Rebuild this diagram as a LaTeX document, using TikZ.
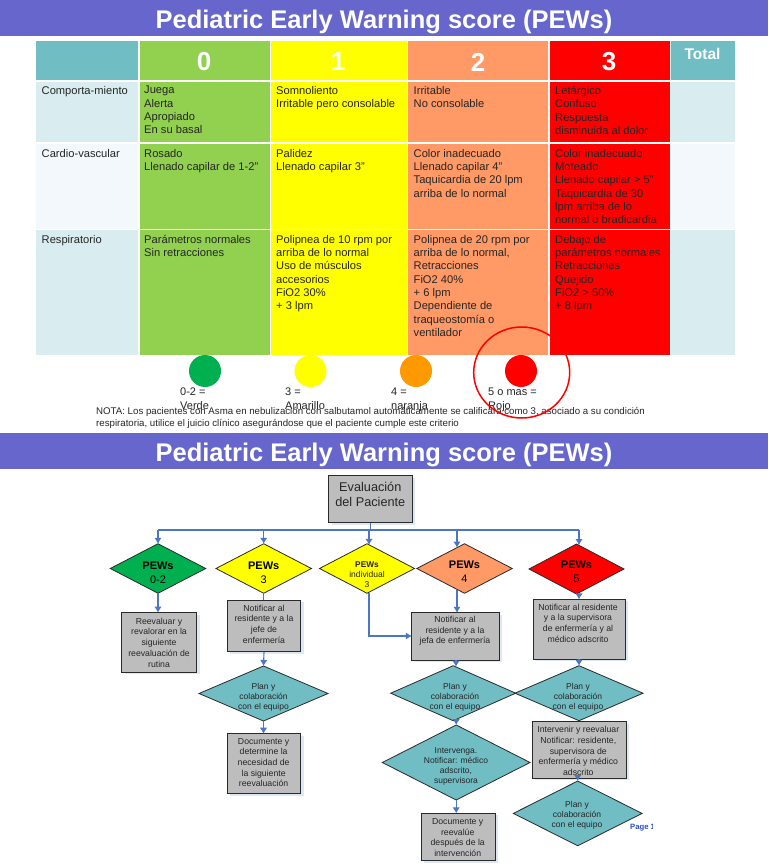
\documentclass[tikz,border=0pt]{standalone}
\usepackage{fontspec}
\setmainfont{Liberation Sans}
\usetikzlibrary{arrows.meta,shapes.geometric,shadows}
\definecolor{band}{HTML}{6666CC}
\definecolor{cteal}{HTML}{70BDC4}
\definecolor{cgreen}{HTML}{92D050}
\definecolor{cyellow}{HTML}{FFFF00}
\definecolor{corange}{HTML}{FF9966}
\definecolor{cred}{HTML}{FF0000}
\definecolor{rowa}{HTML}{D9ECEF}
\definecolor{rowb}{HTML}{F2F8FB}
\definecolor{dotgreen}{HTML}{00B050}
\definecolor{dotorange}{HTML}{FF9900}
\definecolor{boxgray}{HTML}{BDBDBD}
\definecolor{edge}{HTML}{2A2A2A}
\definecolor{flowblue}{HTML}{4A76C4}
\definecolor{shade}{HTML}{DDE7F5}
\definecolor{ink}{HTML}{262626}
\definecolor{pageblue}{HTML}{2A4FD0}
\tikzset{
  x=1pt,y=-1pt,
  band/.style={fill=band,draw=none,anchor=north west,minimum width=768pt,minimum height=36pt,inner sep=0,outer sep=0},
  title/.style={text=white,font=\fontsize{25.5}{30}\bfseries\selectfont,inner sep=0},
  cell/.style={draw=none,anchor=north west,inner sep=0,outer sep=0},
  ctext/.style={anchor=north west,align=left,inner sep=0,text=ink,font=\fontsize{11.15}{13.3}\selectfont},
  num/.style={text=white,font=\fontsize{26}{28}\bfseries\selectfont,inner sep=0},
  dot/.style={circle,draw=none,minimum size=32pt,inner sep=0},
  dlabel/.style={anchor=north west,align=left,inner sep=0,text=ink,font=\fontsize{11}{14}\selectfont},
  nota/.style={anchor=north west,align=left,inner sep=0,text=ink,font=\fontsize{9.68}{12.3}\selectfont},
  fbox/.style={rectangle,draw=edge,line width=0.9pt,fill=boxgray,inner sep=0,outer sep=0,
    drop shadow={shadow xshift=3pt,shadow yshift=-2pt,fill=shade,opacity=1}},
  dia/.style={diamond,draw=edge,line width=0.8pt,inner sep=0,outer sep=0},
  ftext/.style={align=center,inner sep=0,text=ink,font=\fontsize{8.7}{10.7}\selectfont},
  dtext/.style={align=center,inner sep=0,text=ink,font=\fontsize{8.5}{10}\selectfont},
  ptext/.style={align=center,inner sep=0,text=black,font=\fontsize{11}{14}\selectfont},
  flow/.style={draw=flowblue,line width=1.1pt},
  flowa/.style={flow,-{Latex[length=6pt,width=7.5pt]}},
}
\begin{document}
\begin{tikzpicture}
\useasboundingbox (0,0) rectangle (768,866);
\fill[white] (0,0) rectangle (768,866);

% banners
\node[band] (b1) at (0,0) {};
\node[band] (b2) at (0,433) {};
\node[title] (t1) at (384,21.5) {Pediatric Early Warning score (PEWs)};
\node[title] (t2) at (384,454.5) {Pediatric Early Warning score (PEWs)};

% table header
\node[cell,fill=cteal,minimum width=102pt,minimum height=39pt] (h0) at (36,41) {};
\node[cell,fill=cgreen,minimum width=130.5pt,minimum height=39pt] (h1) at (139.5,41) {};
\node[cell,fill=cyellow,minimum width=136pt,minimum height=39pt] (h2) at (271,41) {};
\node[cell,fill=corange,minimum width=140pt,minimum height=39pt] (h3) at (408,41) {};
\node[cell,fill=cred,minimum width=120pt,minimum height=39pt] (h4) at (550,41) {};
\node[cell,fill=cteal,minimum width=63.5pt,minimum height=39pt] (h5) at (671,41) {};
\node[num] (n0) at (204,62) {0};
\node[num] (n1) at (338,62) {1};
\node[num] (n2) at (478,62) {2};
\node[num] (n3) at (609,62) {3};
\node[text=white,inner sep=0,font=\fontsize{15.5}{18}\bfseries\selectfont] (tot) at (702.5,53.5) {Total};

% row 1
\node[cell,fill=rowa,minimum width=102pt,minimum height=60pt] (a0) at (36,82) {};
\node[cell,fill=cgreen,minimum width=130.5pt,minimum height=60pt] (a1) at (139.5,82) {};
\node[cell,fill=cyellow,minimum width=136pt,minimum height=60pt] (a2) at (271,82) {};
\node[cell,fill=corange,minimum width=140pt,minimum height=60pt] (a3) at (408,82) {};
\node[cell,fill=cred,minimum width=120pt,minimum height=60pt] (a4) at (550,82) {};
\node[cell,fill=rowa,minimum width=63.5pt,minimum height=60pt] (a5) at (671,82) {};
% row 2
\node[cell,fill=rowb,minimum width=102pt,minimum height=85pt] (r0) at (36,144) {};
\node[cell,fill=cgreen,minimum width=130.5pt,minimum height=85pt] (r1) at (139.5,144) {};
\node[cell,fill=cyellow,minimum width=136pt,minimum height=85pt] (r2) at (271,144) {};
\node[cell,fill=corange,minimum width=140pt,minimum height=85pt] (r3) at (408,144) {};
\node[cell,fill=cred,minimum width=120pt,minimum height=85pt] (r4) at (550,144) {};
\node[cell,fill=rowb,minimum width=63.5pt,minimum height=85pt] (r5) at (671,144) {};
% row 3
\node[cell,fill=rowa,minimum width=102pt,minimum height=124.5pt] (s0) at (36,230.5) {};
\node[cell,fill=cgreen,minimum width=130.5pt,minimum height=124.5pt] (s1) at (139.5,230.5) {};
\node[cell,fill=cyellow,minimum width=136pt,minimum height=124.5pt] (s2) at (271,230.5) {};
\node[cell,fill=corange,minimum width=140pt,minimum height=124.5pt] (s3) at (408,230.5) {};
\node[cell,fill=cred,minimum width=120pt,minimum height=124.5pt] (s4) at (550,230.5) {};
\node[cell,fill=rowa,minimum width=63.5pt,minimum height=124.5pt] (s5) at (671,230.5) {};

% table text
\node[ctext] (ta0) at (41.5,86) {Comporta-miento};
\node[ctext] (ta1) at (144,86) {Juega\\Alerta\\Apropiado\\En su basal};
\node[ctext] (ta2) at (276,86) {Somnoliento\\Irritable pero consolable};
\node[ctext] (ta3) at (413.5,86) {Irritable\\No consolable};
\node[ctext] (ta4) at (555,86) {Letárgico\\Confuso\\Respuesta\\disminuida al dolor};
\node[ctext] (tr0) at (41.5,149) {Cardio-vascular};
\node[ctext] (tr1) at (144,149) {Rosado\\Llenado capilar de 1-2"};
\node[ctext] (tr2) at (276,149) {Palidez\\Llenado capilar 3"};
\node[ctext] (tr3) at (413.5,149) {Color inadecuado\\Llenado capilar 4"\\Taquicardia de 20 lpm\\arriba de lo normal};
\node[ctext] (tr4) at (555,149) {Color inadecuado\\Moteado\\Llenado capilar > 5"\\Taquicardia de 30\\lpm arriba de lo\\normal o bradicardia};
\node[ctext] (ts0) at (41.5,235) {Respiratorio};
\node[ctext] (ts1) at (144,235) {Parámetros normales\\Sin retracciones};
\node[ctext] (ts2) at (276,235) {Polipnea de 10 rpm por\\arriba de lo normal\\Uso de músculos\\accesorios\\FiO2 30\%\\+ 3 lpm};
\node[ctext] (ts3) at (413.5,235) {Polipnea de 20 rpm por\\arriba de lo normal,\\Retracciones\\FiO2 40\%\\+ 6 lpm\\Dependiente de\\traqueostomía o\\ventilador};
\node[ctext] (ts4) at (555,235) {Debajo de\\parámetros normales\\Retracciones\\Quejido\\FiO2 > 50\%\\+ 8 lpm};

% legend
\node[dot,fill=dotgreen] (dg) at (205,371) {};
\node[dot,fill=cyellow] (dy) at (310.5,371) {};
\node[dot,fill=dotorange] (do) at (416,371) {};
\node[dot,fill=cred] (dr) at (521,371) {};
\node[dlabel] (lg) at (180,388) {0-2 =\\Verde};
\node[dlabel] (ly) at (285,388) {3 =\\Amarillo};
\node[dlabel] (lo) at (391,388) {4 =\\naranja};
\node[dlabel] (lr) at (488,388) {5 o mas =\\Rojo};
\node[nota] (nt) at (96,407) {NOTA: Los pacientes con Asma en nebulización con salbutamol automáticamente se calificara como 3, asociado a su condición\\respiratoria, utilice el juicio clínico asegurándose que el paciente cumple este criterio};
\node[ellipse,draw=cred,line width=1.5pt,minimum width=96pt,minimum height=91pt,inner sep=0] (ring) at (521.7,372.5) {};

% flowchart
\node[fbox,minimum width=83.5pt,minimum height=47pt] (ev) at (370.3,499) {};
\node[ftext,font=\fontsize{12.7}{15}\selectfont] (evt) at (370.3,494) {Evaluación\\del Paciente};

\node[dia,fill=dotgreen,minimum width=95.5pt,minimum height=49.5pt] (d0) at (158,568.5) {};
\node[dia,fill=cyellow,minimum width=95.5pt,minimum height=49.5pt] (d3) at (263.7,568.5) {};
\node[dia,fill=cyellow,minimum width=95pt,minimum height=49.5pt] (di) at (367,568.5) {};
\node[dia,fill=corange,minimum width=95.5pt,minimum height=49.5pt] (d4) at (464.5,568.5) {};
\node[dia,fill=cred,minimum width=95pt,minimum height=50pt] (d5) at (576.5,569) {};

\node[ptext] (d0t) at (158,572.5) {\bfseries PEWs\\0-2};
\node[ptext] (d3t) at (263.7,572.5) {\bfseries PEWs\\3};
\node[dtext] (dit) at (367,574.5) {{\bfseries\fontsize{8.3}{10}\selectfont PEWs}\\individual\\3};
\node[ptext] (d4t) at (464.5,572) {\bfseries PEWs\\4};
\node[ptext] (d5t) at (576.5,572) {\bfseries PEWs\\5};

\node[fbox,minimum width=75pt,minimum height=59.5pt] (b0) at (159.2,642.4) {};
\node[ftext] (b0t) at (159,642.5) {Reevaluar y\\revalorar en la\\siguiente\\reevaluación de\\rutina};
\node[fbox,minimum width=73.4pt,minimum height=51.7pt] (b3) at (264,625.9) {};
\node[ftext] (b3t) at (264,624) {Notificar al\\residente y a la\\jefe de\\enfermería};
\node[fbox,minimum width=87.3pt,minimum height=47.3pt] (b4) at (455.4,636.4) {};
\node[ftext] (b4t) at (455,631) {Notificar al\\residente y a la\\jefa de enfermería};
\node[fbox,minimum width=92pt,minimum height=60pt] (b5) at (579,629.4) {};
\node[ftext] (b5t) at (578,623) {Notificar al residente\\y a la supervisora\\de enfermería y al\\médico adscrito};

\node[dia,fill=cteal,minimum width=129pt,minimum height=55pt] (p3) at (263.5,693.5) {};
\node[dtext] (p3t) at (263.5,697) {Plan y\\colaboración\\con el equipo};
\node[dia,fill=cteal,minimum width=125pt,minimum height=55pt] (p4) at (453.2,693.2) {};
\node[dtext] (p4t) at (455,697) {Plan y\\colaboración\\con el equipo};
\node[dia,fill=cteal,minimum width=128pt,minimum height=55pt] (p5) at (579,693.2) {};
\node[dtext] (p5t) at (578,697) {Plan y\\colaboración\\con el equipo};

\node[fbox,minimum width=73.4pt,minimum height=60pt] (c3) at (264,763.7) {};
\node[ftext] (c3t) at (263.6,762.5) {Documente y\\determine la\\necesidad de\\la siguiente\\reevaluación};

\node[dia,fill=cteal,minimum width=147.7pt,minimum height=75pt] (i4) at (456.2,762.5) {};
\node[dtext] (i4t) at (456,766.5) {Intervenga.\\Notificar: médico\\adscrito,\\supervisora};
\node[fbox,minimum width=94pt,minimum height=56.6pt] (i5) at (579,750) {};
\node[ftext] (i5t) at (578.3,751) {Intervenir y reevaluar\\Notificar: residente,\\supervisora de\\enfermería y médico\\adscrito};
\node[dia,fill=cteal,minimum width=128.7pt,minimum height=64.7pt] (p6) at (577.7,813.4) {};
\node[dtext] (p6t) at (577,815.5) {Plan y\\colaboración\\con el equipo};
\node[fbox,minimum width=74pt,minimum height=47.4pt] (c4) at (458,837) {};
\node[ftext] (c4t) at (457.7,837.5) {Documente y\\reevalúe\\después de la\\intervención};

\begin{scope}
  \clip (628,820) rectangle (652.3,836);
  \node[anchor=west,inner sep=0,text=pageblue,font=\fontsize{7.7}{9}\bfseries\selectfont] (pg) at (630,828) {Page 1};
\end{scope}

% connectors
\coordinate (bus) at (370.3,530);
\coordinate (a3i) at (369,530);
\coordinate (a4x) at (457,530);
\coordinate (a5x) at (579,530);
\coordinate (e4) at (457,547.6);
\coordinate (e5) at (579,545);
\coordinate (ei) at (369,544.8);
\draw[flow] (ev.south) -- (bus);
\draw[flow] (d0.north |- bus) -- (a5x);
\draw[flowa] (d0.north |- bus) -- (d0.north);
\draw[flowa] (d3.north |- bus) -- (d3.north);
\draw[flowa] (a3i) -- (ei);
\draw[flowa] (a4x) -- (e4);
\draw[flowa] (a5x) -- (e5);

\draw[flowa] (d0.south) -- (d0.south |- b0.north);
\draw[flow] (d3.south) -- (d3.south |- b3.north);
\draw[flowa] (b3.south) -- (p3.north);
\draw[flowa] (p3.south) -- (p3.south |- c3.north);
\coordinate (di4) at (369,593);
\coordinate (di5) at (369,636);
\draw[flowa] (di4) -- (di5) -- (b4.west |- di5);
\coordinate (e4b) at (457,589.5);
\draw[flowa] (e4b) -- (e4b |- b4.north);
\draw[flowa] (d5.south -| a5x) -- (a5x |- b5.north);
\coordinate (p4n) at (456,666.6);
\draw[flowa] (p4n |- b4.south) -- (p4n);
\draw[flowa] (b5.south -| p5.north) -- (p5.north);
\draw[flowa] (i4.north |- p4.south) -- (i4.north);
\draw[flowa] (i4.south) -- (i4.south |- c4.north);
\draw[flowa] (i5.south -| p6.north) -- (p6.north);
\end{tikzpicture}
\end{document}
